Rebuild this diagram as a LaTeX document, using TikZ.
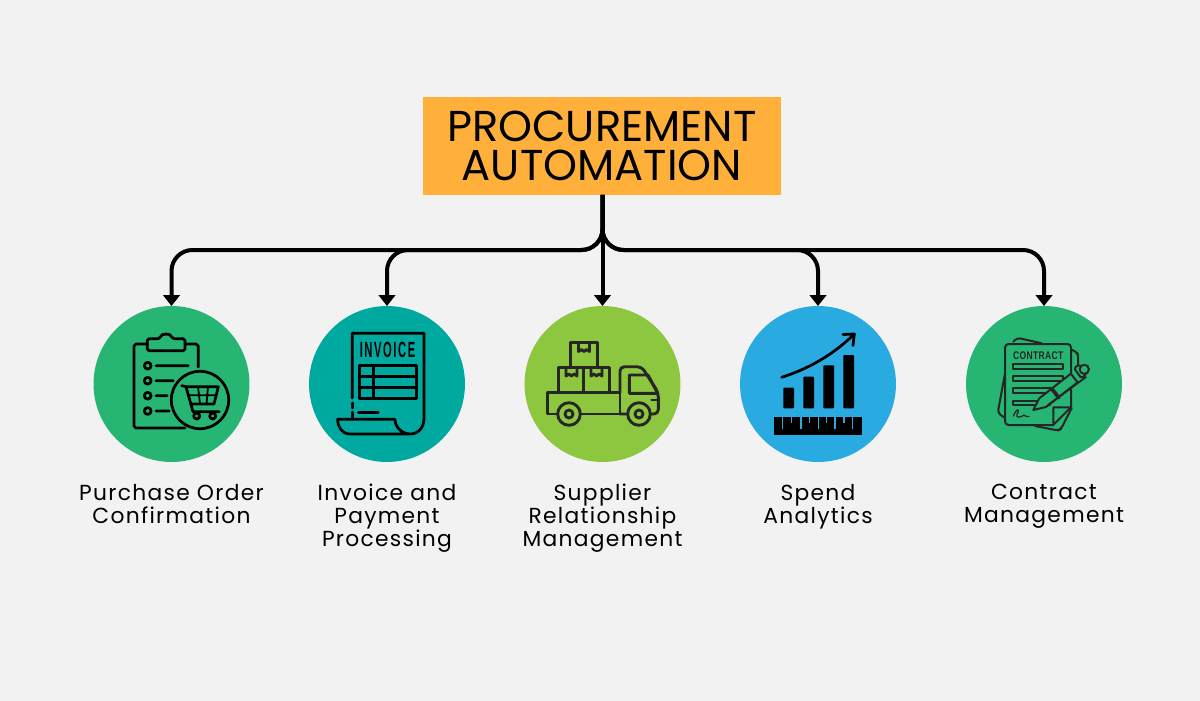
\documentclass[tikz,border=0pt]{standalone}
\usepackage{fontspec}
\setmainfont[LetterSpace=6.0]{Poppins}
\newfontfamily\titlefont{Poppins}
\newfontfamily\iconfont{Liberation Sans Bold}
\usetikzlibrary{arrows.meta}

\definecolor{pagebg}{HTML}{F2F2F2}
\definecolor{titlebg}{HTML}{FFB03B}
\definecolor{greenA}{HTML}{27B574}
\definecolor{tealB}{HTML}{00A9A0}
\definecolor{limeC}{HTML}{8DC63F}
\definecolor{blueD}{HTML}{29ABE2}

\tikzset{
    disc/.style={circle,fill=#1,minimum size=3.12cm,inner sep=0pt,outer sep=0pt},
    conn/.style={line width=0.08cm,rounded corners=0.42cm,-{Triangle[width=0.33cm,length=0.22cm]}},
    caption/.style={anchor=north,align=center,inner sep=0pt,font=\fontsize{12.4}{13.1}\selectfont,
        execute at begin node=\strut},
    iconline/.style={draw=black,line width=0.055cm,line cap=round,line join=round},
    darkline/.style={draw=black!85,line width=0.058cm,line cap=round,line join=round},
    thinline/.style={draw=black!85,line width=0.036cm,line cap=round,line join=round},
}

\begin{document}
\begin{tikzpicture}[x=0.02cm,y=-0.02cm]
    \useasboundingbox (0,0) rectangle (1200,700);
    \fill[pagebg] (-2,-2) rectangle (1202,702);

    % Title box
    \node[fill=titlebg,minimum width=7.16cm,minimum height=1.96cm,inner sep=0pt,outer sep=0pt,
        align=center,font=\titlefont\fontsize{24.6}{22.2}\selectfont] (title) at (602,146)
        {PROCUREMENT\\AUTOMATION};

    % The five discs
    \node[disc=greenA] (order) at (171.5,384) {};
    \node[disc=tealB] (invoice) at (387,384) {};
    \node[disc=limeC] (supplier) at (602.5,384) {};
    \node[disc=blueD] (spend) at (818,384) {};
    \node[disc=greenA] (contract) at (1044,384) {};

    % Connectors, all through the hub under the title
    \coordinate (hub) at (602.5,250);
    \draw[conn] (title.south -| hub) -- (hub) -| (order.north);
    \draw[conn] (title.south -| hub) -- (hub) -| (invoice.north);
    \draw[conn] (title.south -| hub) -- (supplier.north);
    \draw[conn] (title.south -| hub) -- (hub) -| (spend.north);
    \draw[conn] (title.south -| hub) -- (hub) -| (contract.north);

    % Captions
    \node[caption] (orderText) at (171.5,484) {Purchase Order\\Confirmation};
    \node[caption] (invoiceText) at (387,484) {Invoice and\\Payment\\Processing};
    \node[caption] (supplierText) at (602.5,484) {Supplier\\Relationship\\Management};
    \node[caption] (spendText) at (818,484) {Spend\\Analytics};
    \node[caption] (contractText) at (1044,484) {Contract\\Management};

    % Icon: clipboard with cart
    \draw[iconline] (198.3,367) -- (198.3,346) -- (196,344) -- (185,344);
    \draw[iconline] (147.3,344) -- (136,344) -- (134,346) -- (134,426) -- (136,428) -- (185,428);
    \draw[iconline,rounded corners=1pt] (147.3,338.7) -- (160,338.7)
        .. controls (161,333) and (171,333) .. (172,338.7) -- (185,338.7) -- (185,350.7) -- (147.3,350.7) -- cycle;
    \draw[iconline] (147.7,365.7) circle (3.4) (156,365.7) -- (188.3,365.7);
    \draw[iconline] (147.7,380.7) circle (3.4) (156,380.7) -- (173.3,380.7);
    \draw[iconline] (147.7,395.7) circle (3.4) (156,395.7) -- (167.3,395.7);
    \draw[iconline] (147.7,411) circle (3.4) (156,411) -- (169.3,411);
    \draw[iconline] (200,400) circle (28.7);
    \draw[iconline] (181.7,385.7) -- (186,386.7) -- (218.3,386.7) -- (214,404) -- (190.5,404);
    \draw[iconline] (186,386.7) -- (193,411.7) -- (219.3,411.7);
    \draw[thinline,draw=black] (188.5,395.3) -- (216,395.3)
        (198,386.7) -- (200,404) (208,386.7) -- (206.5,404);
    \draw[iconline] (196.7,416) circle (3) (212.7,416) circle (3);

    % Icon: invoice sheet
    \draw[iconline] (352.3,398) -- (352.3,333.3) -- (424,333.3) -- (424,418)
        .. controls (424,428) and (418,434) .. (410,434) -- (350,434)
        .. controls (342,434) and (337.7,427) .. (337.7,419.3) -- (395,419.3)
        .. controls (395,427) and (402,434) .. (410,434);
    \draw[iconline] (352.3,403) -- (352.3,408) (352.3,412) -- (352.3,419.3);
    \draw[iconline] (358.3,412.3) -- (378.3,412.3);
    \node[inner sep=0pt,font=\iconfont\fontsize{10.8}{11}\selectfont] (invoiceWord) at (387.5,350)
        {\scalebox{0.59}[1.16]{\addfontfeature{LetterSpace=14}INVOICE}};
    \draw[iconline] (359.3,365.7) rectangle (416.7,398.7);
    \draw[iconline] (359.3,376.7) -- (416.7,376.7) (359.3,387.7) -- (416.7,387.7) (373.3,365.7) -- (373.3,398.7);

    % Icon: truck with boxes
    \draw[darkline] (570.7,366.7) -- (570.7,342.7) -- (597.3,342.7) -- (597.3,366.7);
    \draw[darkline] (578.5,342.7) -- (578.5,351.5) -- (581.5,349.5) -- (584,351.5) -- (586.5,349.5) -- (589.5,351.5) -- (589.5,342.7);
    \draw[darkline] (558.3,391.7) -- (558.3,367.3) -- (609.3,367.3) -- (609.3,391.7) (583.8,367.3) -- (583.8,391.7);
    \draw[darkline] (566,367.3) -- (566,376) -- (569,374) -- (571.5,376) -- (574,374) -- (577,376) -- (577,367.3);
    \draw[darkline] (591,367.3) -- (591,376) -- (594,374) -- (596.5,376) -- (599,374) -- (602,376) -- (602,367.3);
    \draw[darkline] (547.3,392.7) rectangle (620,414);
    \draw[darkline,rounded corners=2.5pt] (620,392.7) -- (620,366.7) -- (641.7,366.7) -- (658.3,392.7) -- (658.3,414) -- (620,414);
    \draw[darkline] (629.3,393.3) -- (629.3,375) -- (648,375) -- (657.7,393.3) -- cycle;
    \draw[darkline] (651.7,400) -- (658.3,400);
    \draw[darkline,fill=limeC] (569,414) circle (11.3);
    \draw[darkline] (569,414) circle (4);
    \draw[darkline,fill=limeC] (639,414) circle (11.3);
    \draw[darkline] (639,414) circle (4);

    % Icon: bars, arrow and ruler
    \fill[black,rounded corners=0.5pt] (783.3,387.7) rectangle (794,408.3);
    \fill[black,rounded corners=0.5pt] (803.3,376.7) rectangle (814,408.3);
    \fill[black,rounded corners=0.5pt] (823.3,365.3) rectangle (834,408.3);
    \fill[black,rounded corners=0.5pt] (843.3,355) rectangle (854,408.3);
    \draw[iconline,line width=0.055cm] (781.7,377.3) .. controls (808,369) and (833,355) .. (854.3,334);
    \draw[iconline,line width=0.055cm] (843,334.5) -- (854.3,334) -- (853,345.5);
    \fill[black] (774,416.7) rectangle (862.3,435);
    \draw[blueD,line width=0.03cm] (782.7,416.7) -- (782.7,429) (801,416.7) -- (801,429)
        (818.3,416.7) -- (818.3,429) (835,416.7) -- (835,429) (852.3,416.7) -- (852.3,429)
        (791.7,416.7) -- (791.7,423.3) (809.3,416.7) -- (809.3,423.3)
        (826.7,416.7) -- (826.7,423.3) (844,416.7) -- (844,423.3);

    % Icon: contract sheets and pen
    \draw[darkline,line width=0.04cm,rounded corners=2pt] (1013.3,341.7) -- (1017,337.7) -- (1041.7,343.3);
    \draw[darkline,line width=0.04cm,rounded corners=2pt] (1072,350) -- (1076.7,351.7) -- (1078.3,356) -- (1078,368);
    \draw[darkline,line width=0.04cm,rounded corners=2pt] (1005,373.3) -- (997.7,413) -- (1005,418);
    \draw[darkline,line width=0.04cm,rounded corners=2pt] (1035,426) -- (1058,430.5) -- (1061,429) -- (1071.7,408);
    \draw[darkline,line width=0.04cm,rounded corners=2pt] (1053.3,425) -- (1005,425) -- (1005,344) -- (1071,344) -- (1071,407.3);
    \draw[darkline,line width=0.04cm] (1071,407.3) -- (1053.3,425) -- (1053.3,407.3) -- cycle;
    \node[inner sep=0pt,text=black!85,font=\iconfont\fontsize{6.3}{7}\selectfont] (contractWord) at (1038.3,355.3)
        {\scalebox{0.77}[1]{\addfontfeature{LetterSpace=4}CONTRACT}};
    \draw[thinline] (1013.3,364) rectangle (1063.3,368.7);
    \draw[thinline] (1013.3,376.3) rectangle (1063.3,381);
    \draw[thinline] (1013.3,388.3) rectangle (1063.3,393);
    \draw[thinline] (1013.3,400.7) rectangle (1050,405.3);
    \draw[thinline,line width=0.025cm] (1013.5,416) .. controls (1016,408) and (1021,408) .. (1017,414)
        .. controls (1015,419) and (1022,417) .. (1024,415) .. controls (1025,417) and (1026,416) .. (1029,416.5);
    % pen on top of the lines
    \draw[darkline,line width=0.04cm,fill=greenA] (1033.3,410) -- (1039.3,398.3) -- (1070.8,373.7) -- (1077.6,382.3) -- (1046.1,406.9) -- cycle;
    \draw[darkline,line width=0.075cm] (1052.5,389.7) -- (1058.8,397.7);
    \draw[darkline,line width=0.04cm,fill=greenA,rounded corners=1pt] (1074,368) -- (1079.5,364.5) -- (1087,373) -- (1081.5,378.5) -- cycle;
    \draw[darkline,line width=0.04cm,fill=greenA] (1084.3,369.3) circle (4.6);
    \draw[thinline] (1048,405) -- (1086,377);
\end{tikzpicture}
\end{document}
